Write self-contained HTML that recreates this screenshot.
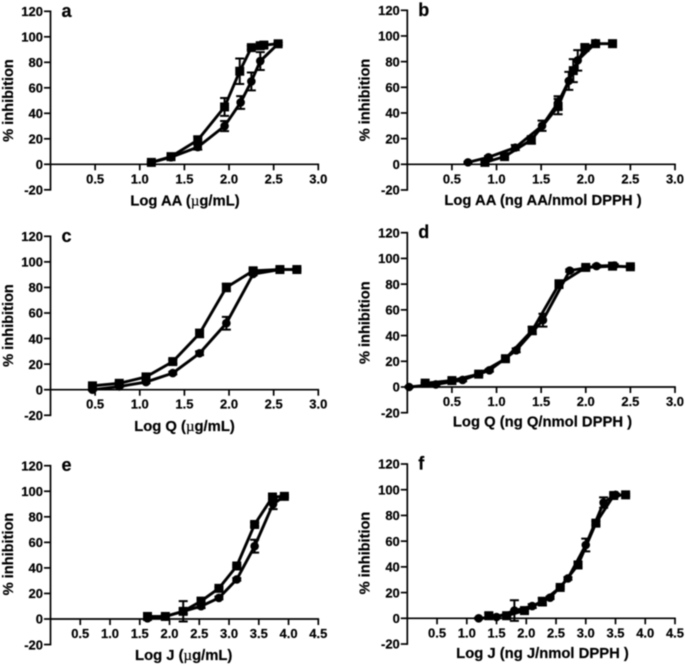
<!DOCTYPE html>
<html>
<head>
<meta charset="utf-8">
<title>% inhibition panels</title>
<style>
html,body{margin:0;padding:0;background:#fff;width:685px;height:666px;overflow:hidden}
svg{display:block;filter:blur(0.4px)}
text{font-family:"Liberation Sans",sans-serif;font-weight:bold;fill:#000;stroke:#000;stroke-width:0.2px}
</style>
</head>
<body>
<svg id="figure" width="685" height="666" viewBox="0 0 685 666" xmlns="http://www.w3.org/2000/svg"></svg>
<script>
// ---- data ----
const yTicks = [-20, 0, 20, 40, 60, 80, 100, 120];
const xTicks30 = [0.5, 1.0, 1.5, 2.0, 2.5, 3.0];
const xTicks45 = [0.5, 1.0, 1.5, 2.0, 2.5, 3.0, 3.5, 4.0, 4.5];

const aCircleX = [1.13, 1.35, 1.65, 1.95, 2.13, 2.25, 2.35, 2.55];
const aCircleY = [1.5, 5.5, 13.5, 30, 48.5, 65, 81, 94.5];
const aCircleE = [0.5, 1, 2, 4, 5, 7, 7, 1];
const aSquareX = [1.13, 1.35, 1.65, 1.95, 2.12, 2.25, 2.35, 2.39, 2.55];
const aSquareY = [1.5, 6, 19, 45, 73, 91.5, 93, 93.5, 94.5];
const aSquareE = [0.5, 1, 3, 7, 10, 1.5, 2, 2, 1];

const bCircleX = [0.68, 0.91, 1.21, 1.51, 1.69, 1.81, 1.91, 2.11];
const bCircleY = [1.5, 5.5, 13, 30, 48, 65, 81, 94.5];
const bCircleE = [0.5, 1, 2, 4, 5, 7, 8, 1];
const bSquareX = [0.87, 1.09, 1.39, 1.69, 1.86, 1.99, 2.11, 2.30];
const bSquareY = [1.5, 6, 19, 45, 73, 91, 94, 94];
const bSquareE = [0.5, 1, 3, 6, 9, 2, 1, 1];

const cCircleX = [0.47, 0.77, 1.07, 1.37, 1.67, 1.97, 2.27, 2.57, 2.76];
const cCircleY = [0, 2.5, 6, 13, 28.5, 52, 90.5, 94, 94];
const cCircleE = [0.5, 0.5, 1, 1, 1.5, 5, 1, 1, 1];
const cSquareX = [0.47, 0.77, 1.07, 1.37, 1.67, 1.97, 2.27, 2.57, 2.76];
const cSquareY = [3, 5, 10, 22, 44, 80, 93, 94, 94];
const cSquareE = [0.5, 1, 1, 1.5, 3, 3, 1.5, 1, 1];

const dCircleX = [0.02, 0.32, 0.62, 0.92, 1.22, 1.52, 1.82, 2.12, 2.32];
const dCircleY = [0, 2, 5.5, 13, 28.5, 52, 90.5, 94, 94.5];
const dCircleE = [0.5, 0.5, 1, 1, 1.5, 5, 1, 1, 1];
const dSquareX = [0.2, 0.5, 0.8, 1.1, 1.4, 1.7, 2.0, 2.3, 2.5];
const dSquareY = [3, 5, 10, 22, 44, 80, 93, 94, 93.5];
const dSquareE = [0.5, 1, 1, 1.5, 3, 3, 1.5, 1, 1];

const eCircleX = [1.63, 1.93, 2.23, 2.53, 2.83, 3.13, 3.43, 3.74, 3.93];
const eCircleY = [0.5, 2, 6, 10, 16.5, 31, 57, 90, 96];
const eCircleE = [1, 1, 8, 1.5, 1, 1, 5, 4, 1];
const eSquareX = [1.63, 1.93, 2.23, 2.53, 2.83, 3.13, 3.43, 3.73, 3.93];
const eSquareY = [2, 2, 6, 14, 24, 41.5, 74, 95.5, 96];
const eSquareE = [2, 1, 2, 2, 1, 1, 1.5, 1.5, 1];

const fCircleX = [1.2, 1.5, 1.8, 2.1, 2.4, 2.7, 3.0, 3.3, 3.5];
const fCircleY = [0, 1, 6, 9.5, 16, 31, 57, 90, 96];
const fCircleE = [0.5, 1, 8, 1.5, 1, 1, 5, 4, 1];
const fSquareX = [1.37, 1.67, 1.97, 2.27, 2.57, 2.87, 3.17, 3.47, 3.67];
const fSquareY = [2, 2, 6, 13, 24, 41.5, 74, 95.5, 96];
const fSquareE = [2, 1, 2, 3, 1, 2, 1.5, 1.5, 1];

const SVG_NS = 'http://www.w3.org/2000/svg';
const fig = document.getElementById('figure');

function mk(parent, tag, attrs, txt) {
  const el = document.createElementNS(SVG_NS, tag);
  for (const k in attrs) el.setAttribute(k, attrs[k]);
  if (txt !== undefined) el.textContent = txt;
  parent.appendChild(el);
  return el;
}

function drawSeries(group, kind, xs, ys, es, sx, sy, panelId) {
  const pts = xs.map((v, i) => sx(v) + ',' + sy(ys[i])).join(' ');
  const line = mk(group, 'polyline', {points: pts, fill: 'none', stroke: '#000', 'stroke-width': 2.9});
  
  
  xs.forEach((v, i) => {
    const cx = sx(v), cy = sy(ys[i]), top = sy(ys[i] + es[i]), bot = sy(ys[i] - es[i]);
    const err = mk(group, 'path', {
      d: 'M' + (cx - 4.5) + ' ' + top + 'H' + (cx + 4.5) + 'M' + cx + ' ' + top + 'V' + bot + 'M' + (cx - 4.5) + ' ' + bot + 'H' + (cx + 4.5),
      stroke: '#000', 'stroke-width': 2, fill: 'none'
    });
    
    
    let mark;
    if (kind === 'circle') {
      mark = mk(group, 'circle', {cx: cx, cy: cy, r: 4.3, fill: '#000'});
    } else {
      mark = mk(group, 'rect', {x: cx - 4.5, y: cy - 4.5, width: 9, height: 9, fill: '#000'});
    }
    
    
  });
}

function drawPanel(p) {
  const g = mk(fig, 'g', {});
  
  

  const sx = v => p.x0 + (v / p.xMax) * (p.x1 - p.x0);
  const sy = v => p.y0 - (v / 120) * (p.y0 - p.y120);
  const yBottom = sy(-20);

  const yAxis = mk(g, 'line', {x1: p.x0, x2: p.x0, y1: p.y120 - 0.8, y2: yBottom + 0.8, stroke: '#000', 'stroke-width': 1.7});
  
  
  const xAxis = mk(g, 'line', {x1: p.x0, x2: p.x1 + 0.8, y1: p.y0, y2: p.y0, stroke: '#000', 'stroke-width': 1.7});
  
  

  yTicks.forEach(t => {
    const y = sy(t);
    const tick = mk(g, 'line', {x1: p.x0 - 6.5, x2: p.x0, y1: y, y2: y, stroke: '#000', 'stroke-width': 1.7});
    
    
    const lab = mk(g, 'text', {x: p.x0 - 7.5, y: y + 4.7, 'text-anchor': 'end', 'font-size': 13}, String(t));
    
    
  });

  p.xTicks.forEach(t => {
    const x = sx(t);
    const tick = mk(g, 'line', {x1: x, x2: x, y1: p.y0, y2: p.y0 + 6, stroke: '#000', 'stroke-width': 1.7});
    
    
    const lab = mk(g, 'text', {x: x, y: p.y0 + 19, 'text-anchor': 'middle', 'font-size': 13}, t.toFixed(1));
    
    
  });

  drawSeries(g, 'circle', p.cx, p.cy, p.ce, sx, sy, p.id);
  drawSeries(g, 'square', p.qx, p.qy, p.qe, sx, sy, p.id);

  const letter = mk(g, 'text', {x: p.x0 + 11, y: p.y120 + 5.5, 'font-size': 18}, p.id);
  
  

  const xt = mk(g, 'text', {x: p.titleX, y: p.titleY, 'text-anchor': 'middle', 'font-size': 14.8});
  
  
  p.title.forEach(part => {
    const sp = mk(xt, 'tspan', part.serif ? {style: 'font-family:\'Liberation Serif\',serif;font-weight:normal'} : {}, part.t);
    
    
  });

  const yt = mk(g, 'text', {
    transform: 'translate(' + p.yTitleX + ',' + p.yTitleY + ') rotate(-90)',
    'text-anchor': 'middle', 'font-size': 14.6
  }, '% inhibition');
  
  
}

const leftX0 = 50.5, leftX1 = 318.3, rightX0 = 407.3, rightX1 = 675;

drawPanel({id: 'a', x0: leftX0, x1: leftX1, y120: 11.3, y0: 164.3, xMax: 3, xTicks: xTicks30,
  cx: aCircleX, cy: aCircleY, ce: aCircleE, qx: aSquareX, qy: aSquareY, qe: aSquareE,
  title: [{t: 'Log AA ('}, {t: 'µ', serif: true}, {t: 'g/mL)'}], titleX: 185, titleY: 205.5, yTitleX: 13, yTitleY: 100.5});
drawPanel({id: 'b', x0: rightX0, x1: rightX1, y120: 10.3, y0: 164.3, xMax: 3, xTicks: xTicks30,
  cx: bCircleX, cy: bCircleY, ce: bCircleE, qx: bSquareX, qy: bSquareY, qe: bSquareE,
  title: [{t: 'Log AA (ng AA/nmol DPPH )'}], titleX: 543, titleY: 205, yTitleX: 369.5, yTitleY: 100});
drawPanel({id: 'c', x0: leftX0, x1: leftX1, y120: 236.3, y0: 389.7, xMax: 3, xTicks: xTicks30,
  cx: cCircleX, cy: cCircleY, ce: cCircleE, qx: cSquareX, qy: cSquareY, qe: cSquareE,
  title: [{t: 'Log Q ('}, {t: 'µ', serif: true}, {t: 'g/mL)'}], titleX: 184.5, titleY: 431, yTitleX: 13, yTitleY: 325.5});
drawPanel({id: 'd', x0: rightX0, x1: rightX1, y120: 232.7, y0: 387, xMax: 3, xTicks: xTicks30,
  cx: dCircleX, cy: dCircleY, ce: dCircleE, qx: dSquareX, qy: dSquareY, qe: dSquareE,
  title: [{t: 'Log Q (ng Q/nmol DPPH )'}], titleX: 542.5, titleY: 426.7, yTitleX: 369.5, yTitleY: 322.7});
drawPanel({id: 'e', x0: leftX0, x1: leftX1, y120: 465.7, y0: 619, xMax: 4.5, xTicks: xTicks45,
  cx: eCircleX, cy: eCircleY, ce: eCircleE, qx: eSquareX, qy: eSquareY, qe: eSquareE,
  title: [{t: 'Log J ('}, {t: 'µ', serif: true}, {t: 'g/mL)'}], titleX: 183.7, titleY: 660, yTitleX: 13, yTitleY: 554});
drawPanel({id: 'f', x0: rightX0, x1: rightX1, y120: 464, y0: 618.3, xMax: 4.5, xTicks: xTicks45,
  cx: fCircleX, cy: fCircleY, ce: fCircleE, qx: fSquareX, qy: fSquareY, qe: fSquareE,
  title: [{t: 'Log J (ng J/nmol DPPH )'}], titleX: 542.5, titleY: 658, yTitleX: 369.5, yTitleY: 553});
</script>
</body>
</html>
